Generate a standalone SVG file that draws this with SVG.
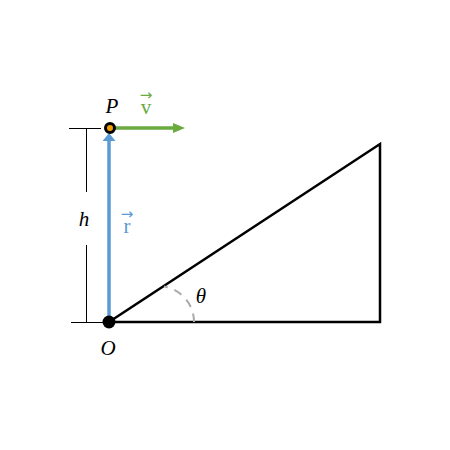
<svg xmlns="http://www.w3.org/2000/svg" width="450" height="450" viewBox="0 0 450 450">
<style>
.lbl{font-family:"Liberation Serif","DejaVu Serif",serif;font-size:21px;font-style:italic;fill:#000;text-anchor:middle}
.vec{font-family:"Liberation Serif","DejaVu Serif",serif;font-size:21px;text-anchor:middle}
.arr{font-family:"DejaVu Sans","Liberation Sans",sans-serif;font-size:15px}
.dim{stroke:#000;stroke-width:1;fill:none}
.tri{stroke:#000;stroke-width:2.5;fill:none;stroke-linejoin:miter}
</style>
<defs>
<marker id="ahBlue" markerWidth="8" markerHeight="13" refX="0" refY="6.5" orient="auto" markerUnits="userSpaceOnUse" viewBox="0 0 8 13">
<path d="M0,0 L8,6.5 L0,13 Z" fill="#5b9bd5"/>
</marker>
<marker id="ahGreen" markerWidth="12" markerHeight="10" refX="0" refY="5" orient="auto" markerUnits="userSpaceOnUse" viewBox="0 0 12 10">
<path d="M0,0 L12,5 L0,10 Z" fill="#6aaa3e"/>
</marker>
</defs>
<rect width="450" height="450" fill="#fff"/>
<g id="incline">
<path class="tri" d="M109,322 L380,322 L380,144 Z"/>
</g>
<g id="angle">
<path d="M194,322 A36,36 0 0 0 164,286.5" fill="none" stroke="#aaaaaa" stroke-width="2" stroke-dasharray="8.5 7"/>
<text class="lbl" x="201" y="303">θ</text>
</g>
<g id="height">
<line class="dim" x1="86.5" y1="128" x2="86.5" y2="192"/>
<line class="dim" x1="86.5" y1="245" x2="86.5" y2="322"/>
<line class="dim" x1="69" y1="128.5" x2="101" y2="128.5"/>
<line class="dim" x1="71" y1="322.5" x2="103" y2="322.5"/>
<text class="lbl" x="84" y="226">h</text>
</g>
<g id="connectors">
<line x1="109" y1="322" x2="109" y2="141" stroke="#5b9bd5" stroke-width="3.5" marker-end="url(#ahBlue)"/>
<line x1="112" y1="128" x2="173" y2="128" stroke="#6aaa3e" stroke-width="3.5" marker-end="url(#ahGreen)"/>
</g>
<g id="O">
<circle cx="109" cy="322" r="6.5" fill="#000"/>
<text class="lbl" x="108" y="355">O</text>
</g>
<g id="P">
<circle cx="110" cy="128" r="4.5" fill="#f5a000" stroke="#000" stroke-width="3"/>
<text class="lbl" x="112" y="113">P</text>
</g>
<g id="r-label">
<text class="vec" x="127" y="233" fill="#5b9bd5">r<tspan class="arr" x="127" y="219">→</tspan></text>
</g>
<g id="v-label">
<text class="vec" x="146" y="114" fill="#6aaa3e">v<tspan class="arr" x="146" y="100">→</tspan></text>
</g>
</svg>
